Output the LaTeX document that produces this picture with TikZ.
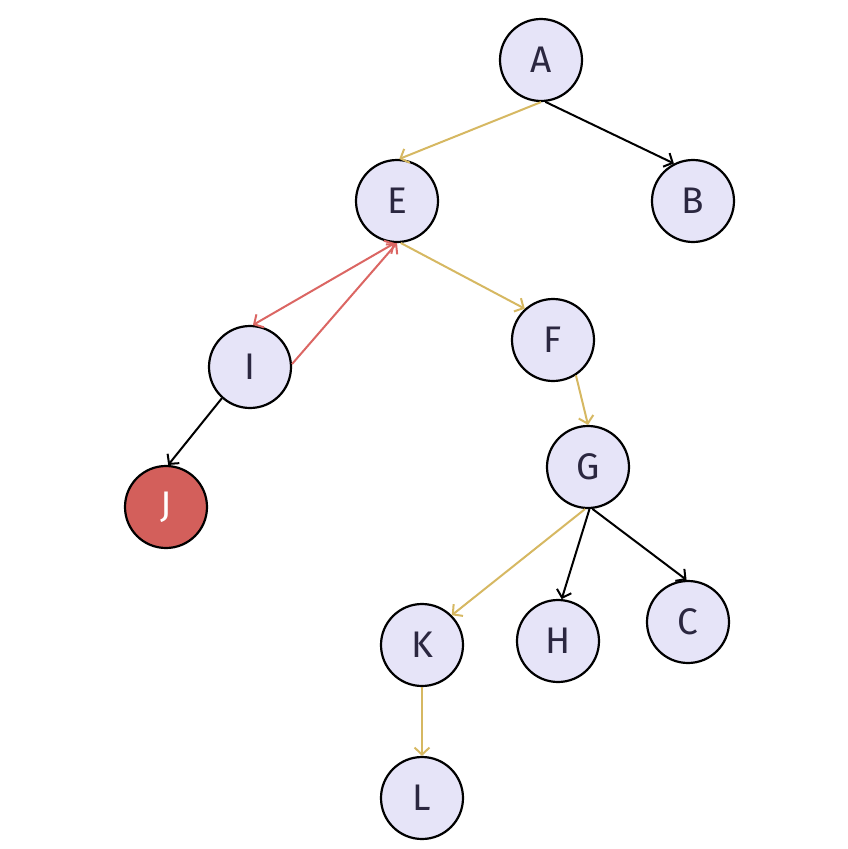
\documentclass[tikz,border=0pt]{standalone}
\usepackage{fontspec}
\setmainfont{Fira Sans}
\usetikzlibrary{arrows.meta}
\definecolor{nodefill}{HTML}{E6E4F8}
\definecolor{nodetext}{HTML}{2B2740}
\definecolor{hotfill}{HTML}{D35F5B}
\definecolor{pathyellow}{HTML}{D6B862}
\definecolor{backred}{HTML}{DB6663}
\tikzset{
  vtx/.style={circle, draw=black, line width=2.2pt, fill=nodefill, minimum size=82pt, inner sep=0pt, text=nodetext, font=\fontsize{37}{40}\selectfont},
  hotvtx/.style={vtx, fill=hotfill, text=white},
  tip/.style={-{Straight Barb[length=7pt,width=15pt,line width=2pt]}},
  plain/.style={tip, draw=black, line width=2pt},
  goldpath/.style={tip, draw=pathyellow, line width=2pt},
  redpath/.style={draw=backred, line width=2pt}
}
\begin{document}
\begin{tikzpicture}[x=1pt,y=-1pt]
\useasboundingbox (0,0) rectangle (847,849);
\node[vtx] (A) at (541,60) {A};
\node[vtx] (E) at (397,201) {E};
\node[vtx] (B) at (693,201) {B};
\node[vtx] (I) at (250,367) {I};
\node[vtx] (F) at (553,340) {F};
\node[hotvtx] (J) at (166,507) {J};
\node[vtx] (G) at (588,467) {G};
\node[vtx] (K) at (422,645) {K};
\node[vtx] (H) at (558,641) {H};
\node[vtx] (C) at (688,622) {C};
\node[vtx] (L) at (422,798) {L};
\draw[goldpath] (A.-90) -- (E.87);
\draw[plain] (A.-84) -- (B.117);
\draw[goldpath] (E.-85) -- (F.132);
\draw[redpath, {Straight Barb[length=7pt,width=15pt,line width=2pt]}-{Straight Barb[length=7pt,width=15pt,line width=2pt]}] (E.-93) -- (I.86);
\draw[redpath, tip] (I.4) -- (E.-90);
\draw[plain] (I.228) -- (J.87);
\draw[goldpath] (F.-57) -- (G.90);
\draw[goldpath] (G.-94) -- (K.45);
\draw[plain] (G.-88) -- (H.85);
\draw[plain] (G.-84) -- (C.92);
\draw[goldpath] (K.-90) -- (L.90);
\end{tikzpicture}
\end{document}
